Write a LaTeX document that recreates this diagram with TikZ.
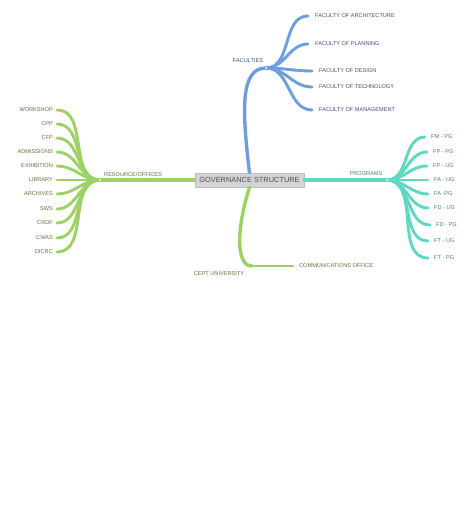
\documentclass[tikz,border=0pt]{standalone}
\usepackage{fontspec}
\setmainfont{Liberation Sans}
\usetikzlibrary{positioning}
\definecolor{facblue}{HTML}{6E9DE0}
\definecolor{factext}{HTML}{3B4F80}
\definecolor{resgreen}{HTML}{9CD263}
\definecolor{restext}{HTML}{5D7040}
\definecolor{progteal}{HTML}{5FD8C1}
\definecolor{progtext}{HTML}{4B7F76}
\definecolor{rootgray}{HTML}{D4D4D4}
\definecolor{roottext}{HTML}{505050}

\begin{document}
\begin{tikzpicture}[x=1pt, y=-1pt, line cap=round, font=\fontsize{5.6}{6.5}\selectfont]
    \tikzstyle{root}=[draw=rootgray!90!black, fill=rootgray, rectangle, minimum width=109pt, minimum height=14pt, inner sep=0pt, text=roottext, font=\fontsize{7.4}{8}\selectfont]
    \tikzstyle{leaf}=[inner sep=1pt]
    \tikzstyle{trunk}=[line width=3.4pt]
    \tikzstyle{twig}=[line width=2.9pt]
    \useasboundingbox (0,0) rectangle (474,505);

    % centre and branch hubs
    \node[root] (gov) at (249.5,180) {GOVERNANCE STRUCTURE};
    \coordinate (fac) at (266,68);
    \coordinate (res) at (100,180);
    \coordinate (prog) at (387,180);
    \coordinate (cept) at (252,266);

    % faculties
    \coordinate (arch) at (308,16);
    \coordinate (plan) at (308,44);
    \coordinate (des) at (312,71);
    \coordinate (tech) at (312,87);
    \coordinate (mgmt) at (312,110);
    \node[leaf, text=factext, right=6pt of arch] (archtxt) {FACULTY OF ARCHITECTURE};
    \node[leaf, text=factext, right=6pt of plan] (plantxt) {FACULTY OF PLANNING};
    \node[leaf, text=factext, right=6pt of des] (destxt) {FACULTY OF DESIGN};
    \node[leaf, text=factext, right=6pt of tech] (techtxt) {FACULTY OF TECHNOLOGY};
    \node[leaf, text=factext, right=6pt of mgmt] (mgmttxt) {FACULTY OF MANAGEMENT};
    \node[leaf, text=factext] (factxt) at (248,61) {FACULTIES};

    \draw[facblue, trunk] (gov.north) .. controls (242,110) and (240,68) .. (fac);
    \path[draw=facblue, twig] (fac) edge[out=0, in=180] (arch);
    \path[draw=facblue, twig] (fac) edge[out=0, in=180] (plan);
    \path[draw=facblue, twig] (fac) edge[out=0, in=180] (des);
    \path[draw=facblue, twig] (fac) edge[out=0, in=180] (tech);
    \path[draw=facblue, twig] (fac) edge[out=0, in=180] (mgmt);

    % resource / offices
    \coordinate (work) at (57,110);
    \coordinate (cpp) at (57,124);
    \coordinate (cfp) at (57,138);
    \coordinate (adm) at (57,152);
    \coordinate (exh) at (57,166);
    \coordinate (lib) at (57,180);
    \coordinate (arc) at (57,194);
    \coordinate (sws) at (57,209);
    \coordinate (crdf) at (57,223);
    \coordinate (cwas) at (57,238);
    \coordinate (dicrc) at (57,252);
    \node[leaf, text=restext, left=3pt of work] (worktxt) {WORKSHOP};
    \node[leaf, text=restext, left=3pt of cpp] (cpptxt) {CPP};
    \node[leaf, text=restext, left=3pt of cfp] (cfptxt) {CFP};
    \node[leaf, text=restext, left=3pt of adm] (admtxt) {ADMISSIONS};
    \node[leaf, text=restext, left=3pt of exh] (exhtxt) {EXHIBITION};
    \node[leaf, text=restext, left=3pt of lib] (libtxt) {LIBRARY};
    \node[leaf, text=restext, left=3pt of arc] (arctxt) {ARCHIVES};
    \node[leaf, text=restext, left=3pt of sws] (swstxt) {SWS};
    \node[leaf, text=restext, left=3pt of crdf] (crdftxt) {CRDF};
    \node[leaf, text=restext, left=3pt of cwas] (cwastxt) {CWAS};
    \node[leaf, text=restext, left=3pt of dicrc] (dicrctxt) {DICRC};
    \node[leaf, text=restext] (restxt) at (133,174) {RESOURCE/OFFICES};

    \draw[resgreen, trunk] (gov.west) -- (res);
    \path[draw=resgreen, twig] (res) edge[out=180, in=0] (work);
    \path[draw=resgreen, twig] (res) edge[out=180, in=0] (cpp);
    \path[draw=resgreen, twig] (res) edge[out=180, in=0] (cfp);
    \path[draw=resgreen, twig] (res) edge[out=180, in=0] (adm);
    \path[draw=resgreen, twig] (res) edge[out=180, in=0] (exh);
    \path[draw=resgreen, twig] (res) edge[out=180, in=0] (lib);
    \path[draw=resgreen, twig] (res) edge[out=180, in=0] (arc);
    \path[draw=resgreen, twig] (res) edge[out=180, in=0] (sws);
    \path[draw=resgreen, twig] (res) edge[out=180, in=0] (crdf);
    \path[draw=resgreen, twig] (res) edge[out=180, in=0] (cwas);
    \path[draw=resgreen, twig] (res) edge[out=180, in=0] (dicrc);

    % programs
    \coordinate (fmpg) at (425,137);
    \coordinate (fppg) at (427,152);
    \coordinate (fpug) at (427,166);
    \coordinate (faug) at (428,180);
    \coordinate (fapg) at (428,194);
    \coordinate (fdug) at (428,208);
    \coordinate (fdpg) at (430,225);
    \coordinate (ftug) at (428,241);
    \coordinate (ftpg) at (428,258);
    \node[leaf, text=progtext, right=5pt of fmpg] (fmpgtxt) {FM - PG};
    \node[leaf, text=progtext, right=5pt of fppg] (fppgtxt) {FP - PG};
    \node[leaf, text=progtext, right=5pt of fpug] (fpugtxt) {FP - UG};
    \node[leaf, text=progtext, right=5pt of faug] (faugtxt) {FA - UG};
    \node[leaf, text=progtext, right=5pt of fapg] (fapgtxt) {FA -PG};
    \node[leaf, text=progtext, right=5pt of fdug] (fdugtxt) {FD - UG};
    \node[leaf, text=progtext, right=5pt of fdpg] (fdpgtxt) {FD - PG};
    \node[leaf, text=progtext, right=5pt of ftug] (ftugtxt) {FT - UG};
    \node[leaf, text=progtext, right=5pt of ftpg] (ftpgtxt) {FT - PG};
    \node[leaf, text=progtext] (progtxt) at (366,174) {PROGRAMS};

    \draw[progteal, trunk] (gov.east) -- (prog);
    \path[draw=progteal, twig] (prog) edge[out=0, in=180] (fmpg);
    \path[draw=progteal, twig] (prog) edge[out=0, in=180] (fppg);
    \path[draw=progteal, twig] (prog) edge[out=0, in=180] (fpug);
    \path[draw=progteal, twig] (prog) edge[out=0, in=180] (faug);
    \path[draw=progteal, twig] (prog) edge[out=0, in=180] (fapg);
    \path[draw=progteal, twig] (prog) edge[out=0, in=180] (fdug);
    \path[draw=progteal, twig] (prog) edge[out=0, in=180] (fdpg);
    \path[draw=progteal, twig] (prog) edge[out=0, in=180] (ftug);
    \path[draw=progteal, twig] (prog) edge[out=0, in=180] (ftpg);

    % cept university
    \coordinate (comm) at (293,266);
    \node[leaf, text=restext, right=5pt of comm] (commtxt) {COMMUNICATIONS OFFICE};
    \node[leaf, text=restext] (cepttxt) at (219,274) {CEPT UNIVERSITY};
    \draw[resgreen, trunk] (gov.south) .. controls (236,230) and (236,266) .. (cept);
    \draw[resgreen, twig] (cept) -- (comm);

    % hub dots
    \fill[white] (fac) circle (1pt);
    \fill[white] (res) circle (1pt);
    \fill[white] (prog) circle (1pt);
\end{tikzpicture}
\end{document}
